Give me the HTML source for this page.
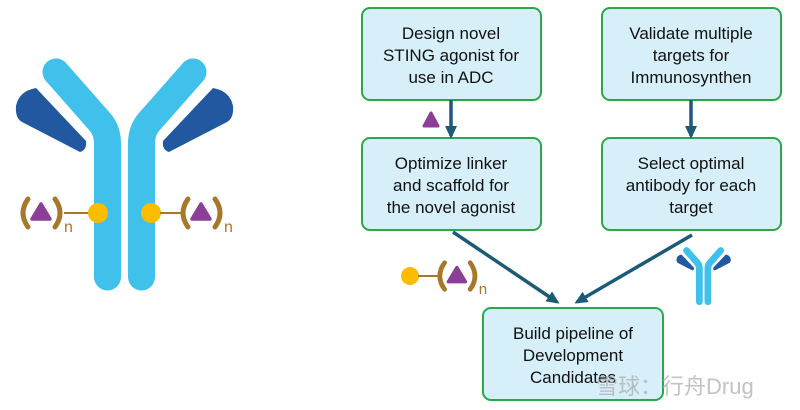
<!DOCTYPE html>
<html><head><meta charset="utf-8"><style>
html,body{margin:0;padding:0;background:#fff;}
svg{display:block;}
text{font-family:"Liberation Sans","Noto Sans CJK SC",sans-serif;}
</style></head><body>
<svg width="800" height="410" viewBox="0 0 800 410" xmlns="http://www.w3.org/2000/svg">
<defs>
<g id="ab">
<path d="M56 72 L100 122 Q107 130 107.5 142 L107.5 277" fill="none" stroke="#3fc1ec" stroke-width="27" stroke-linecap="round" stroke-linejoin="round"/>
<path d="M193 72 L149 122 Q142 130 141.5 142 L141.5 277" fill="none" stroke="#3fc1ec" stroke-width="27" stroke-linecap="round" stroke-linejoin="round"/>
<line x1="124.5" y1="140" x2="124.5" y2="292" stroke="#fff" stroke-width="5"/>
<path d="M36 88 L86 141 Q87 150 80 152 L22 122 Q15 118 16 106 Q19 91 36 88 Z" fill="#2258a0"/>
<path d="M213 88 L163 141 Q162 150 169 152 L227 122 Q234 118 233 106 Q230 91 213 88 Z" fill="#2258a0"/>
</g>
<marker id="ah" markerWidth="13" markerHeight="12" refX="10" refY="6" orient="auto" markerUnits="userSpaceOnUse"><path d="M0 0 L13 6 L0 12 Z" fill="#1c5b78"/></marker>
<g id="pl">
<path d="M9 -14 Q-1 0 9 14" fill="none" stroke="#a8782a" stroke-width="5" stroke-linecap="round"/>
<polygon points="22,-9 13,6 31,6" fill="#8b3f96" stroke="#8b3f96" stroke-width="3.5" stroke-linejoin="round"/>
<path d="M36 -14 Q46 0 36 14" fill="none" stroke="#a8782a" stroke-width="5" stroke-linecap="round"/>
<text x="45" y="19" font-size="16" fill="#a8782a">n</text>
</g>
</defs>
<use href="#ab"/>
<line x1="64" y1="213" x2="90" y2="213" stroke="#a8782a" stroke-width="2"/>
<circle cx="98" cy="213" r="10" fill="#fcbc00"/>
<use href="#pl" transform="translate(19,213)"/>
<circle cx="151" cy="213" r="10" fill="#fcbc00"/>
<line x1="160" y1="213" x2="182" y2="213" stroke="#a8782a" stroke-width="2"/>
<use href="#pl" transform="translate(179,213)"/>

<g fill="#d6eff9" stroke="#2aa84a" stroke-width="2">
<rect x="362" y="8" width="179" height="92" rx="8"/>
<rect x="602" y="8" width="179" height="92" rx="8"/>
<rect x="362" y="138" width="179" height="92" rx="8"/>
<rect x="602" y="138" width="179" height="92" rx="8"/>
<rect x="483" y="308" width="180" height="92" rx="8"/>
</g>
<g font-size="17" fill="#111" text-anchor="middle">
<text x="451" y="39">Design novel</text>
<text x="451" y="61">STING agonist for</text>
<text x="451" y="83">use in ADC</text>
<text x="691" y="39">Validate multiple</text>
<text x="691" y="61">targets for</text>
<text x="691" y="83">Immunosynthen</text>
<text x="451" y="169">Optimize linker</text>
<text x="451" y="191">and scaffold for</text>
<text x="451" y="213">the novel agonist</text>
<text x="691" y="169">Select optimal</text>
<text x="691" y="191">antibody for each</text>
<text x="691" y="213">target</text>
<text x="573" y="339">Build pipeline of</text>
<text x="573" y="361">Development</text>
<text x="573" y="383">Candidates</text>
</g>
<g stroke="#1c5b78" stroke-width="3.5" fill="none" marker-end="url(#ah)">
<line x1="451" y1="100" x2="451" y2="136"/>
<line x1="691" y1="100" x2="691" y2="136"/>
<line x1="453" y1="232" x2="557" y2="302"/>
<line x1="692" y1="235" x2="577" y2="302"/>
</g>
<polygon points="431,113 424,126 438,126" fill="#8b3f96" stroke="#8b3f96" stroke-width="3" stroke-linejoin="round"/>
<circle cx="410" cy="276" r="9" fill="#fcbc00"/>
<line x1="418" y1="276" x2="440" y2="276" stroke="#a8782a" stroke-width="2"/>
<use href="#pl" transform="translate(436,276) scale(0.95)"/>
<use href="#ab" transform="translate(672.5,232.5) scale(0.25)"/>
<text x="596" y="394" font-size="22" fill="#aaa" fill-opacity="0.7">雪球：行舟Drug</text>
</svg>
</body></html>
